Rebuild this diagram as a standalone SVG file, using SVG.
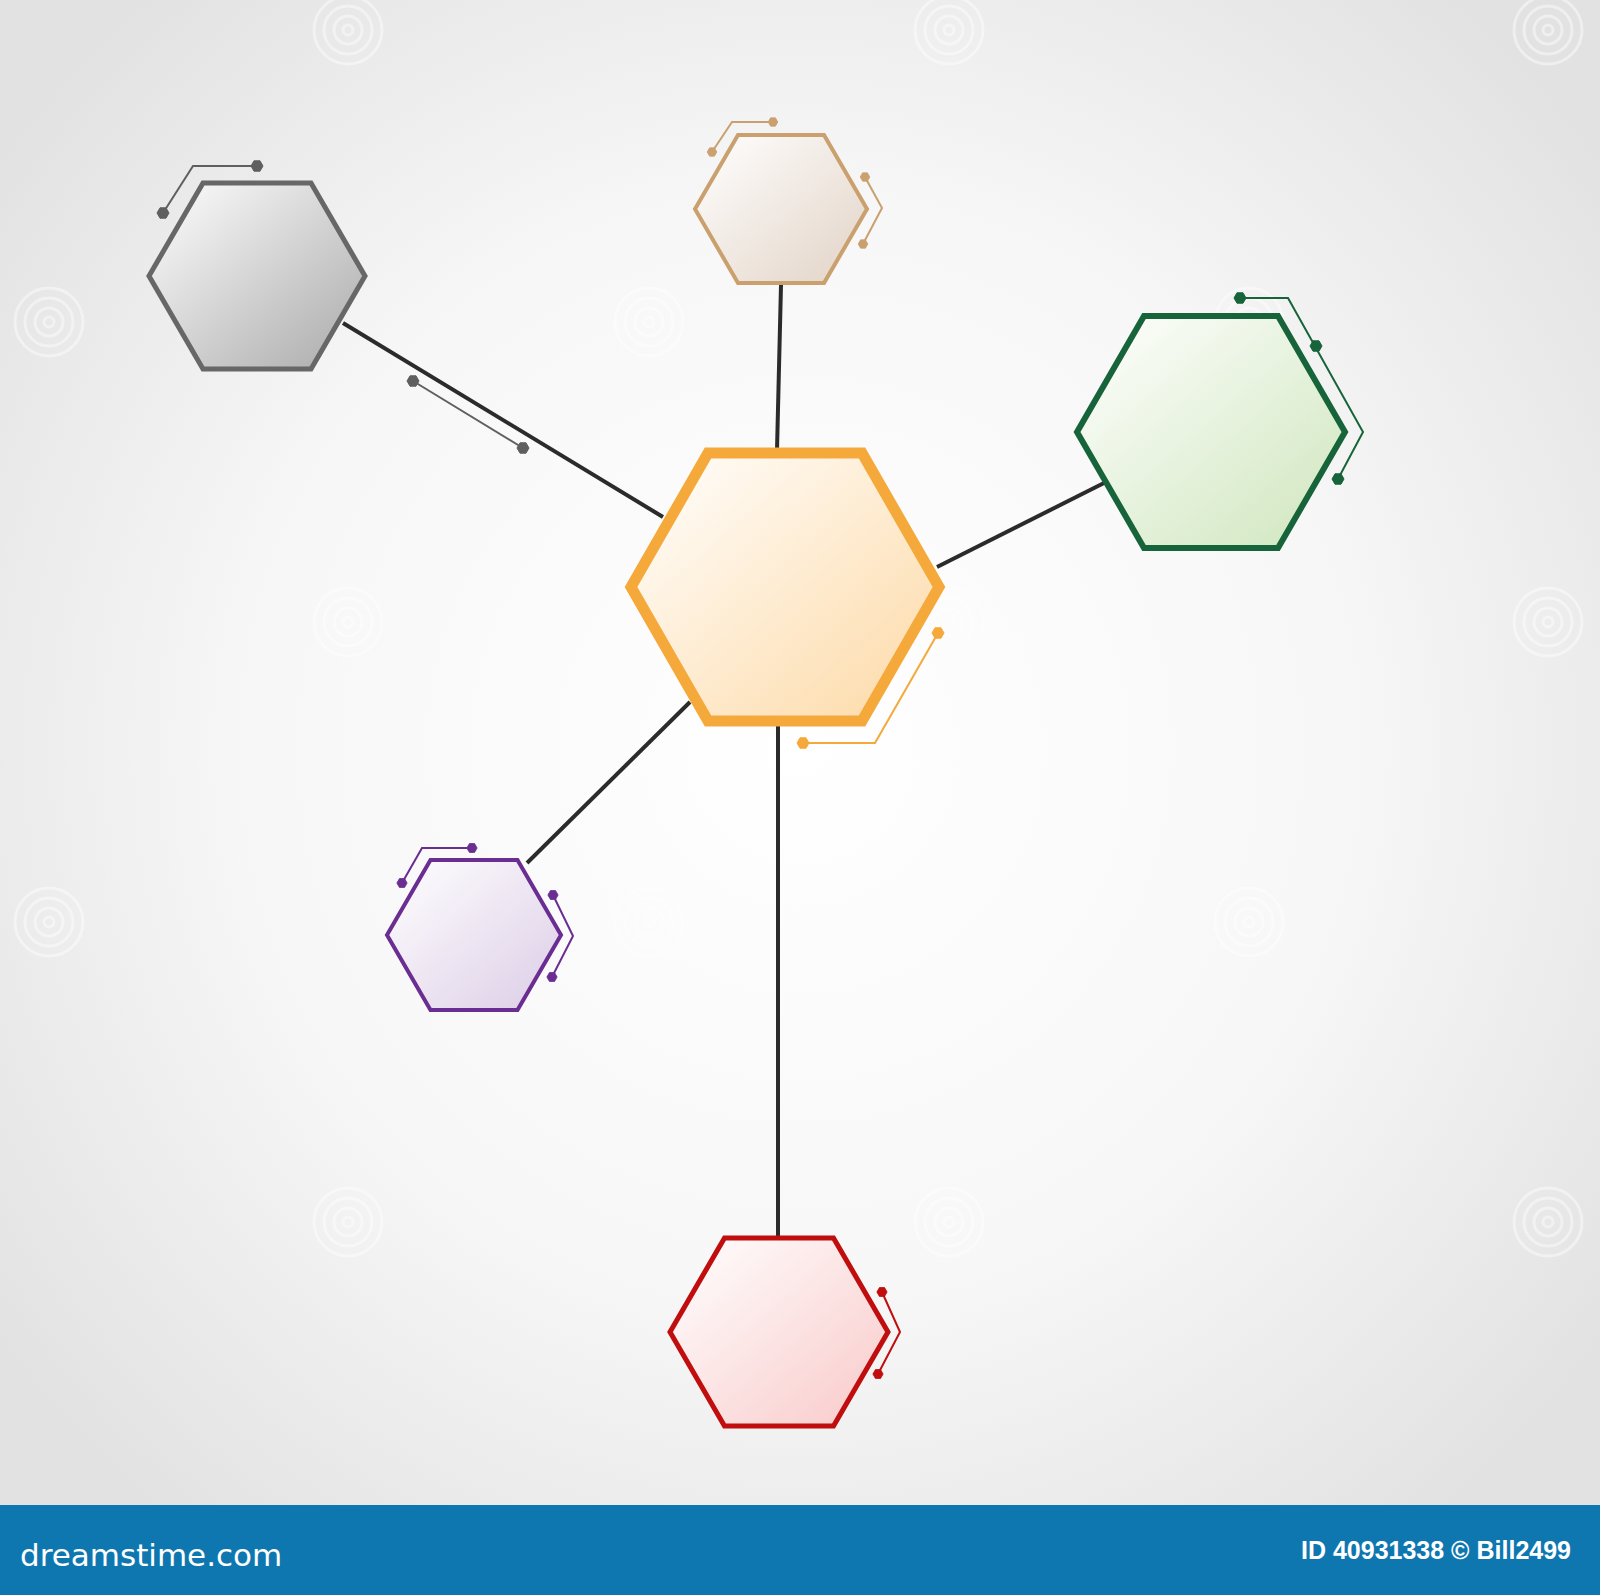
<svg xmlns="http://www.w3.org/2000/svg" width="1600" height="1595" viewBox="0 0 1600 1595">
<defs>
<radialGradient id="bg" cx="800" cy="750" r="1000" gradientUnits="userSpaceOnUse">
<stop offset="0" stop-color="#ffffff"/>
<stop offset="0.55" stop-color="#f7f7f7"/>
<stop offset="1" stop-color="#e2e2e2"/>
</radialGradient>
<linearGradient id="gGray" x1="0" y1="0" x2="1" y2="1"><stop offset="0" stop-color="#ffffff"/><stop offset="1" stop-color="#a9a9a9"/></linearGradient>
<linearGradient id="gTan" x1="0" y1="0" x2="1" y2="1"><stop offset="0" stop-color="#ffffff"/><stop offset="1" stop-color="#e2d3c6"/></linearGradient>
<linearGradient id="gGreen" x1="0" y1="0" x2="1" y2="1"><stop offset="0" stop-color="#ffffff"/><stop offset="1" stop-color="#cfe6bd"/></linearGradient>
<linearGradient id="gOrange" x1="0" y1="0" x2="1" y2="1"><stop offset="0" stop-color="#ffffff"/><stop offset="1" stop-color="#fdd9a5"/></linearGradient>
<linearGradient id="gPurple" x1="0" y1="0" x2="1" y2="1"><stop offset="0" stop-color="#ffffff"/><stop offset="1" stop-color="#dccde6"/></linearGradient>
<linearGradient id="gRed" x1="0" y1="0" x2="1" y2="1"><stop offset="0" stop-color="#ffffff"/><stop offset="1" stop-color="#f9c9c9"/></linearGradient>
<polygon id="dot" points="-6,0 -3,-5.2 3,-5.2 6,0 3,5.2 -3,5.2"/>
<g id="wm" fill="none" stroke="#ffffff" stroke-width="3" opacity="0.45">
<circle r="34"/><circle r="24"/><circle r="14"/><circle r="5"/>
</g>
</defs>
<style>
.hex{stroke-linejoin:miter}
.con{stroke:#2b2b2b;stroke-width:4;fill:none;stroke-linecap:butt}
.deco{fill:none;stroke-width:2}
</style>
<rect width="1600" height="1595" fill="url(#bg)"/>
<g id="watermarks">
<use href="#wm" x="348" y="30"/><use href="#wm" x="949" y="30"/><use href="#wm" x="1548" y="30"/>
<use href="#wm" x="49" y="322"/><use href="#wm" x="649" y="322"/><use href="#wm" x="1249" y="322"/>
<use href="#wm" x="348" y="622"/><use href="#wm" x="949" y="622"/><use href="#wm" x="1548" y="622"/>
<use href="#wm" x="49" y="922"/><use href="#wm" x="649" y="922"/><use href="#wm" x="1249" y="922"/>
<use href="#wm" x="348" y="1222"/><use href="#wm" x="949" y="1222"/><use href="#wm" x="1548" y="1222"/>
</g>
<g id="connectors">
<line class="con" x1="343" y1="323" x2="663" y2="517"/>
<line class="con" x1="781" y1="285" x2="777" y2="450"/>
<line class="con" x1="937" y1="567" x2="1104" y2="483"/>
<line class="con" x1="527" y1="863" x2="690" y2="702"/>
<line class="con" x1="778" y1="722" x2="778" y2="1238"/>
</g>
<g id="node-gray">
<polygon class="hex" points="149,276 203,183 311,183 365,276 311,369 203,369" fill="url(#gGray)" stroke="#676767" stroke-width="5"/>
<g fill="#5f5f5f" stroke="#5f5f5f">
<polyline class="deco" points="163,213 193,166 257,166"/>
<line class="deco" x1="413" y1="381" x2="523" y2="448"/>
<use href="#dot" x="163" y="213"/><use href="#dot" x="257" y="166"/>
<use href="#dot" x="413" y="381"/><use href="#dot" x="523" y="448"/>
</g>
</g>
<g id="node-tan">
<polygon class="hex" points="695,209 738,135 824,135 867,209 824,283 738,283" fill="url(#gTan)" stroke="#c9a06e" stroke-width="4"/>
<g fill="#c9a06e" stroke="#c9a06e">
<polyline class="deco" points="712,152 732,122 773,122"/>
<polyline class="deco" points="865,177 882,208 863,244"/>
<use href="#dot" transform="translate(712,152) scale(0.8)"/><use href="#dot" transform="translate(773,122) scale(0.8)"/>
<use href="#dot" transform="translate(865,177) scale(0.8)"/><use href="#dot" transform="translate(863,244) scale(0.8)"/>
</g>
</g>
<g id="node-green">
<polygon class="hex" points="1077,432 1144,316 1278,316 1345,432 1278,548 1144,548" fill="url(#gGreen)" stroke="#17643a" stroke-width="6"/>
<g fill="#17643a" stroke="#17643a">
<polyline class="deco" points="1240,298 1288,298 1363,432 1338,479"/>
<use href="#dot" x="1240" y="298"/><use href="#dot" x="1316" y="346"/><use href="#dot" x="1338" y="479"/>
</g>
</g>
<g id="node-center">
<polygon class="hex" points="631,587 708,453 862,453 939,587 862,721 708,721" fill="url(#gOrange)" stroke="#f5a93a" stroke-width="11"/>
<g fill="#f5a93a" stroke="#f5a93a">
<polyline class="deco" points="938,633 875,743 803,743"/>
<use href="#dot" x="938" y="633"/><use href="#dot" x="803" y="743"/>
</g>
</g>
<g id="node-purple">
<polygon class="hex" points="387,935 430.5,860 517.5,860 561,935 517.5,1010 430.5,1010" fill="url(#gPurple)" stroke="#6a2d91" stroke-width="4"/>
<g fill="#6a2d91" stroke="#6a2d91">
<polyline class="deco" points="402,883 422,848 472,848"/>
<polyline class="deco" points="553,895 573,936 552,977"/>
<use href="#dot" transform="translate(402,883) scale(0.85)"/><use href="#dot" transform="translate(472,848) scale(0.85)"/>
<use href="#dot" transform="translate(553,895) scale(0.85)"/><use href="#dot" transform="translate(552,977) scale(0.85)"/>
</g>
</g>
<g id="node-red">
<polygon class="hex" points="670,1332 724.5,1238 833.5,1238 888,1332 833.5,1426 724.5,1426" fill="url(#gRed)" stroke="#c00d0d" stroke-width="5"/>
<g fill="#c00d0d" stroke="#c00d0d">
<polyline class="deco" points="882,1292 900,1332 878,1374"/>
<use href="#dot" transform="translate(882,1292) scale(0.85)"/><use href="#dot" transform="translate(878,1374) scale(0.85)"/>
</g>
</g>
<g id="banner">
<rect x="0" y="1505" width="1600" height="90" fill="#0f77b0"/>
<text x="20" y="1566" font-family="'DejaVu Sans', sans-serif" font-size="31" fill="#ffffff">dreamstime.com</text>
<text x="1571" y="1559" font-family="'Liberation Sans', Arial, sans-serif" font-size="25" font-weight="bold" fill="#ffffff" text-anchor="end">ID 40931338 © Bill2499</text>
</g>
</svg>
